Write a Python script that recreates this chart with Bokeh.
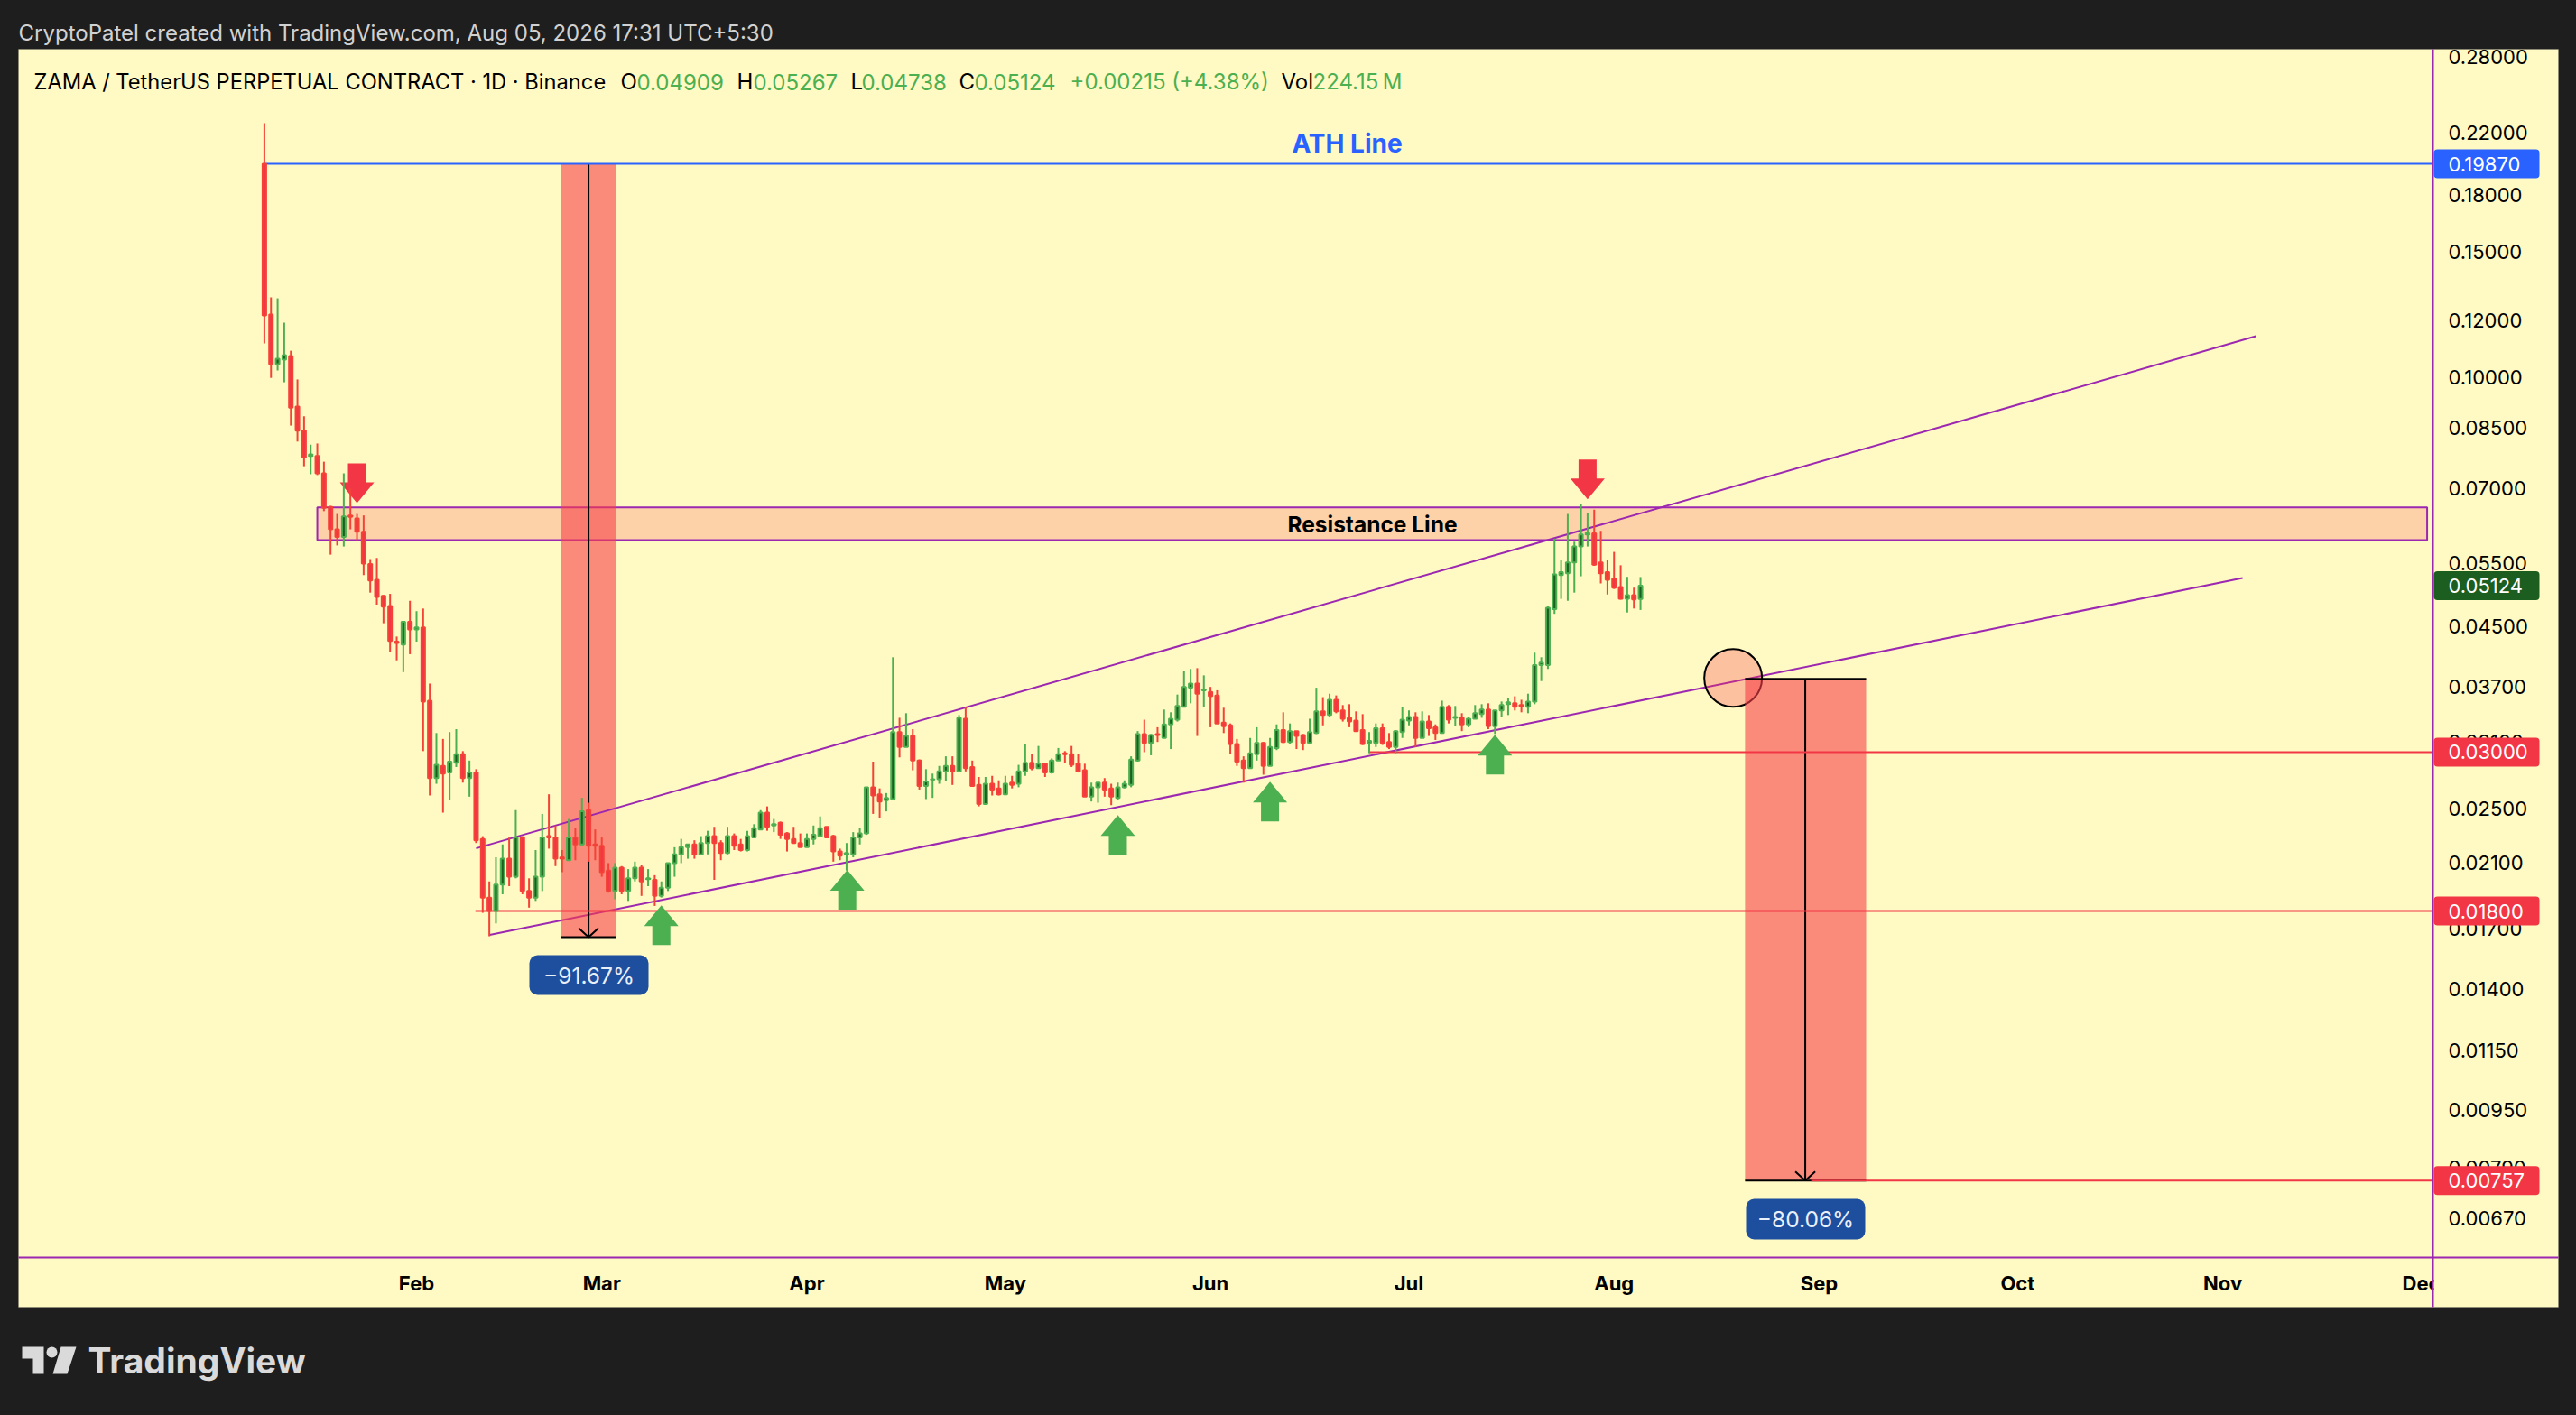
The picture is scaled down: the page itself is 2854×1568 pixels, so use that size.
import math
from bokeh.plotting import figure
from bokeh.embed import file_html
from bokeh.resources import INLINE
from bokeh.models import (BoxAnnotation, ColumnDataSource, FixedTicker, Label, PolyAnnotation,
                          PrintfTickFormatter, Range1d)

# ---- candles: one per day, first one is 23 days before Feb 1 (Jan 9) ----
FIRST_DAY = -23
open_ = [
.1987,.1225,.1044,.1059,.1072,.0911,.0843,.0777,.0777,.0735,
.0660,.0614,.0599,.0642,.0636,.0609,.0549,.0522,.0496,.0480,
.0428,.0424,.0456,.0445,.0448,.0354,.0276,.0287,.0281,.0290,
.0298,.0276,.0281,.0227,.0188,.0180,.0196,.0213,.0201,.0228,
.0192,.0188,.0201,.0229,.0228,.0214,.0212,.0228,.0223,.0249,
.0223,.0222,.0205,.0192,.0207,.0192,.0200,.0207,.01995,.0199,
.0189,.0194,.0210,.0216,.0221,.0223,.0216,.0224,.0229,.0224,
.0217,.0229,.0223,.0219,.0228,.0234,.0247,.0237,.0239,.0231,
.0227,.0224,.0221,.0227,.0229,.0236,.0229,.0218,.0216,.0216,
.0228,.0231,.0268,.0262,.0257,.0258,.0320,.0305,.0316,.0292,
.0269,.02745,.0275,.0282,.0287,.0282,.0334,.0286,.0270,.0254,
.0271,.0267,.0262,.0272,.0271,.0282,.0290,.0285,.0289,.0281,
.0292,.0299,.0298,.0289,.0283,.0260,.0268,.0272,.0267,.0259,
.0268,.0270,.0292,.0318,.0309,.0318,.0314,.0328,.0333,.0347,
.0369,.0374,.0366,.0364,.0360,.0330,.0327,.0308,.0292,.0285,
.0298,.0309,.0287,.0304,.0322,.0310,.0321,.0317,.0309,.0319,
.0342,.0338,.0355,.0343,.0335,.0332,.0322,.0309,.0309,.0324,
.0310,.0305,.0320,.0332,.0336,.0314,.0331,.0325,.0319,.0347,
.0335,.0335,.0328,.0334,.0339,.0344,.0326,.0343,.0350,.0351,
.0349,.0347,.0353,.0397,.0397,.0475,.0530,.0533,.0552,.0581,
.0604,.0606,.0552,.0535,.0524,.0510,.0491,.0497,.04909]
high = [
.2265,.1294,.1290,.1193,.1090,.0994,.0883,.0806,.0809,.0763,
.0662,.0645,.0735,.0700,.0645,.0642,.0558,.0560,.0497,.0499,
.0435,.0457,.0488,.0472,.0476,.0374,.0319,.0313,.0320,.0323,
.0301,.0292,.0284,.0229,.0198,.0214,.0223,.0228,.0249,.0229,
.0200,.0219,.0246,.0262,.0237,.0219,.0242,.0235,.0259,.0255,
.0234,.0228,.0210,.0210,.0208,.0206,.0211,.0209,.0206,.0202,
.0198,.0210,.0221,.0227,.0223,.0226,.0229,.0233,.0236,.0226,
.0236,.0231,.0227,.0233,.0238,.0249,.0252,.0242,.0240,.0232,
.0236,.0231,.0231,.0237,.0244,.0236,.0230,.0220,.0224,.0232,
.0235,.0268,.0291,.0267,.0263,.0407,.0335,.0340,.0323,.0293,
.0284,.0280,.0287,.0296,.0296,.0338,.0347,.0292,.0277,.0277,
.0278,.0274,.0278,.0278,.0288,.0308,.0298,.0306,.0290,.0294,
.0304,.0301,.0306,.0298,.0289,.0272,.0272,.0276,.0271,.0272,
.0274,.0296,.0321,.0333,.0318,.0325,.0344,.0341,.0361,.0389,
.0392,.0393,.0384,.0370,.0366,.0346,.0329,.0313,.0296,.0314,
.0325,.0310,.0314,.0328,.0341,.0329,.0321,.0318,.0334,.0369,
.0358,.0362,.0360,.0349,.0350,.0342,.0339,.0320,.0329,.0329,
.0319,.0322,.0347,.0343,.0341,.0342,.0338,.0328,.0354,.0349,
.0348,.0340,.0336,.0349,.0350,.0351,.0343,.0353,.0357,.0359,
.0355,.0362,.0413,.0407,.0480,.0596,.0557,.0645,.0590,.0666,
.0647,.0654,.0611,.0557,.0571,.0547,.0527,.0509,.05267]
low = [
.1116,.0999,.1023,.0985,.0857,.0814,.0752,.0733,.0731,.0651,
.0566,.0583,.0581,.0614,.0593,.0530,.0501,.0482,.0454,.0414,
.0403,.0388,.0411,.0428,.0301,.0261,.0271,.0247,.0257,.0286,
.0272,.0260,.0224,.0179,.0166,.0173,.0190,.0195,.0200,.0190,
.0182,.0186,.0192,.0220,.0208,.0204,.0212,.0212,.0222,.0211,
.0212,.0201,.0191,.0187,.0190,.0186,.0198,.0189,.0195,.0183,
.0188,.0192,.0201,.0210,.0213,.0213,.0216,.0216,.0199,.0212,
.0216,.0219,.0218,.0218,.0228,.0234,.0233,.0232,.0227,.0218,
.0224,.0221,.0221,.0223,.0229,.0228,.0211,.0212,.0205,.0214,
.0223,.0230,.0246,.0243,.0248,.0257,.0295,.0305,.0283,.0266,
.0258,.0259,.0271,.0273,.0270,.0282,.0282,.0269,.0252,.0254,
.0261,.0261,.0262,.0267,.0268,.0278,.0283,.0285,.0277,.0280,
.0292,.0290,.0286,.0281,.0260,.0256,.0255,.0260,.0253,.0257,
.0267,.0268,.0291,.0300,.0297,.0310,.0314,.0303,.0331,.0347,
.0351,.0316,.0347,.0325,.0329,.0319,.0298,.0287,.0272,.0285,
.0292,.0279,.0287,.0302,.0309,.0308,.0303,.0302,.0309,.0318,
.0327,.0336,.0340,.0331,.0325,.0321,.0307,.0299,.0305,.0307,
.0303,.0299,.0314,.0327,.0305,.0314,.0316,.0312,.0319,.0329,
.0326,.0321,.0325,.0334,.0335,.0323,.0318,.0336,.0338,.0343,
.0341,.0340,.0350,.0377,.0392,.0468,.0491,.0488,.0501,.0528,
.0581,.0546,.0516,.0498,.0507,.0490,.0470,.0476,.04738]
close = [
.1221,.1044,.1062,.1075,.0908,.0843,.0774,.0781,.0735,.0658,
.0614,.0599,.0640,.0639,.0609,.0550,.0521,.0494,.0479,.0429,
.0426,.0456,.0445,.0448,.0353,.0276,.0288,.0280,.0291,.0298,
.0276,.0281,.0226,.0188,.0180,.0196,.0213,.0201,.0228,.0192,
.0188,.0201,.0228,.0228,.0213,.0213,.0228,.0223,.0248,.0222,
.0222,.0204,.0192,.0207,.0192,.0200,.0207,.0198,.0200,.0189,
.0194,.0210,.0216,.0221,.0223,.0216,.0224,.0229,.0224,.0217,
.0229,.0222,.0219,.0229,.0235,.0247,.0236,.0238,.0230,.0227,
.0224,.0221,.0227,.0230,.0235,.0228,.0218,.0215,.0217,.0228,
.0231,.0268,.0261,.0256,.0259,.0320,.0305,.0316,.0292,.0269,
.0273,.0275,.0282,.0287,.0282,.0335,.0285,.0269,.0254,.0271,
.0266,.0262,.0271,.0270,.0282,.0290,.0285,.0289,.0281,.0292,
.0298,.0298,.0288,.0282,.0260,.0268,.0272,.0266,.0260,.0268,
.0271,.0293,.0318,.0309,.0317,.0317,.0328,.0334,.0348,.0370,
.0374,.0362,.0367,.0359,.0329,.0326,.0308,.0291,.0285,.0299,
.0309,.0287,.0305,.0322,.0310,.0321,.0316,.0309,.0320,.0342,
.0338,.0355,.0342,.0334,.0331,.0321,.0308,.0311,.0324,.0309,
.0305,.0321,.0333,.0336,.0314,.0331,.0324,.0319,.0347,.0333,
.0336,.0328,.0334,.0340,.0344,.0326,.0343,.0349,.0352,.0347,
.0348,.0353,.0397,.0400,.0477,.0531,.0535,.0552,.0581,.0604,
.0607,.0548,.0533,.0522,.0509,.0491,.0497,.0490,.05124]

# ---- axes ----
price_ticks = [.28,.22,.18,.15,.12,.10,.085,.07,.055,.045,.037,.031,.025,.021,.017,.014,.0115,.0095,.0079,.0067]
month_days = [0,28,59,89,120,150,181,212,242,273,303]
month_names = ["Feb","Mar","Apr","May","Jun","Jul","Aug","Sep","Oct","Nov","Dec"]

# ---- drawings, in (day since Feb 1, price) ----
ath_price = .1987
upper_channel_days, upper_channel_prices = [9.0, 278.0], [.02202, .1142]
lower_channel_days, lower_channel_prices = [11.05, 276.0], [.01667, .05252]
band_days, band_prices = [-15.0, 303.9], [.0593, .0659]
drop1_days, drop1_prices = [21.8, 30.1], [.1987, .01655]
drop1_mid = 26.0
drop2_days, drop2_prices = [200.8, 219.1], [.03797, .00757]
drop2_mid = 209.9
level_lines = [(8.9, .018), (144.0, .030), (210.8, .00757)]
circle_day, circle_price = 199.0, .03807
red_arrow_days, red_arrow_prices = [-9.0, 177.0], [.0668, .0676]
green_arrow_days, green_arrow_prices = [37.0, 65.1, 106.0, 129.0, 163.0], [.01834, .02054, .02451, .02728, .03172]
price_tags = [(.1987, "0.19870", "#2962FF"), (.05124, "0.05124", "#1B5E20"),
              (.03, "0.03000", "#F23645"), (.018, "0.01800", "#F23645"), (.00757, "0.00757", "#F23645")]

# ---- colours ----
BG, PANEL, PURPLE = "#1E1E1E", "#FFF9C4", "#9C27B0"
UP, UP_IN, DOWN, DOWN_IN = "#4CAF50", "#1B5E20", "#F44336", "#F23645"
LINE_RED, BLUE, TAG_BLUE = "#F23645", "#2962FF", "#1E4F9E"
FONT = "Inter"

W, H = 2838, 1552
PX_DAY, PX0 = 7.33, 461.0
PX_LN, PY0, P0 = 344.8, 146.0, .22
def X(px): return (px - PX0) / PX_DAY
def Y(py): return P0 * math.exp(-(py - PY0) / PX_LN)
def shifted(day, price, dx, dy):
    return day + dx / PX_DAY, price * math.exp(-dy / PX_LN)

# three stacked figures of the same size: page chrome behind, chart, labels in front
def sheet():
    s = figure(width=W, height=H, output_backend="svg", toolbar_location=None,
               x_axis_location=None, y_axis_location=None, x_range=Range1d(0, 1), y_range=Range1d(0, 1),
               min_border_left=0, min_border_right=0, min_border_top=0, min_border_bottom=0)
    s.grid.visible = False
    s.outline_line_color = None
    return s

back = sheet()
back.background_fill_color = BG
back.border_fill_color = BG
front = sheet()
front.background_fill_alpha = 0
front.border_fill_alpha = 0

p = figure(width=W, height=H, output_backend="svg", toolbar_location=None,
           y_axis_type="log", y_axis_location="right",
           x_range=Range1d(X(20), X(2695)), y_range=Range1d(Y(1393), Y(54)),
           min_border_left=12, min_border_right=151, min_border_top=46, min_border_bottom=167)
p.background_fill_alpha = 0
p.border_fill_alpha = 0
p.outline_line_color = None
p.grid.visible = False

# page pixel -> canvas pixel (each figure sits 8px into the page)
def box(x0, x1, y0, y1, color, radius=0, line=None, fig=front):
    fig.add_layout(BoxAnnotation(left=x0 - 8, right=x1 - 8, top=y0 - 8, bottom=y1 - 8,
                                 left_units="canvas", right_units="canvas", top_units="canvas", bottom_units="canvas",
                                 fill_color=color, fill_alpha=1, line_color=line, border_radius=radius,
                                 editable=False))
def text(px, py, s, color="#000000", size=24, style="normal", align="left", fig=front):
    fig.add_layout(Label(x=px - 8, y=py - 8, x_units="canvas", y_units="canvas", text=s, text_color=color,
                         text_font=FONT, text_font_size=f"{size}px", text_font_style=style, text_align=align,
                         text_baseline="middle"))

box(20, 2834, 54, 1448, PANEL, line="#8C8C78", fig=back)

# axes
ya = p.yaxis[0]
ya.ticker = FixedTicker(ticks=price_ticks)
ya.formatter = PrintfTickFormatter(format="%.5f")
ya.axis_line_color = None
ya.major_tick_line_color = None
ya.minor_tick_line_color = None
ya.major_tick_out = 0
ya.major_tick_in = 0
ya.major_label_standoff = 17
ya.major_label_text_font = FONT
ya.major_label_text_font_size = "22px"
ya.major_label_text_color = "#000000"
xa = p.xaxis[0]
xa.ticker = FixedTicker(ticks=month_days)
xa.major_label_overrides = {d: n for d, n in zip(month_days, month_names)}
xa.axis_line_color = None
xa.major_tick_line_color = None
xa.minor_tick_line_color = None
xa.major_tick_out = 0
xa.major_tick_in = 0
xa.major_label_standoff = 15
xa.major_label_text_font = FONT
xa.major_label_text_font_size = "22px"
xa.major_label_text_font_style = "bold"
xa.major_label_text_color = "#000000"

# drawings under the candles
p.quad(left=band_days[0], right=band_days[1], bottom=band_prices[0], top=band_prices[1],
       fill_color="#FDD2A9", line_color=PURPLE, line_width=2)
p.line(lower_channel_days, lower_channel_prices, line_color=PURPLE, line_width=2)
p.scatter([circle_day], [circle_price], marker="circle", size=64, fill_color="#F6404A", fill_alpha=.3,
          line_color="#000000", line_width=2)
for days, prices, mid in ((drop1_days, drop1_prices, drop1_mid), (drop2_days, drop2_prices, drop2_mid)):
    p.quad(left=days[0], right=days[1], top=prices[0], bottom=prices[1], fill_color="#F6404A",
           fill_alpha=.6, line_color=None)
    p.line([days[0], days[1]], [prices[1], prices[1]], line_color="#000000", line_width=2)
    p.line([mid, mid], prices, line_color="#000000", line_width=2)
    a = shifted(mid, prices[1], -11, -10)
    b = shifted(mid, prices[1], 11, -10)
    p.line([a[0], mid, b[0]], [a[1], prices[1], b[1]], line_color="#000000", line_width=2)
p.line([drop2_days[0], drop2_days[1]], [drop2_prices[0]] * 2, line_color="#000000", line_width=2)
p.line(upper_channel_days, upper_channel_prices, line_color=PURPLE, line_width=2)
for d0, price in level_lines:
    p.line([d0, X(2695)], [price, price], line_color=LINE_RED, line_width=2)
p.line([FIRST_DAY + .2, X(2695)], [ath_price, ath_price], line_color=BLUE, line_width=2)

def arrow(day, tip, direction):
    # direction: +1 points up (tip on top), -1 points down (tip below)
    shape = [(0, 0), (19, 23), (10, 23), (10, 44), (-10, 44), (-10, 23), (-19, 23)]
    pts = [shifted(day, tip, dx, dy * direction) for dx, dy in shape]
    return [q[0] for q in pts], [q[1] for q in pts]
xs, ys = zip(*[arrow(d, t, -1) for d, t in zip(red_arrow_days, red_arrow_prices)])
p.patches(list(xs), list(ys), fill_color=LINE_RED, line_color=None)
xs, ys = zip(*[arrow(d, t, 1) for d, t in zip(green_arrow_days, green_arrow_prices)])
p.patches(list(xs), list(ys), fill_color=UP, line_color=None)

# candles
days = [FIRST_DAY + i for i in range(len(open_))]
up = [c >= o for o, c in zip(open_, close)]
src = ColumnDataSource(dict(
    x=days, h=high, l=low,
    top=[max(o, c) for o, c in zip(open_, close)],
    bot=[min(o, c) for o, c in zip(open_, close)],
    edge=[UP if u else DOWN for u in up],
    fill=[UP_IN if u else DOWN_IN for u in up]))
p.segment("x", "h", "x", "l", source=src, line_color="edge", line_width=2)
p.vbar("x", width=.55, top="top", bottom="bot", source=src, fill_color="fill", line_color="edge", line_width=2)

# purple frame lines of the panes ("Dec" is cut off by the price pane)
box(2696, 2716, 1400, 1444, PANEL)
box(2694, 2696, 54, 1448, PURPLE)
box(20, 2834, 1392, 1394, PURPLE)

# price tags
for price, s, color in price_tags:
    py = PY0 + PX_LN * math.log(P0 / price)
    box(2696, 2813, py - 16, py + 16, color, radius=4)
    text(2712, py, s, color="#FFFFFF", size=22)

# measure labels
box(586, 718, 1058, 1102, TAG_BLUE, radius=9)
text(652, 1080, "\u221291.67%", color="#EAF0FA", size=24.5, align="center")
box(1934, 2066, 1328, 1373, TAG_BLUE, radius=9)
text(2000, 1350, "\u221280.06%", color="#EAF0FA", size=24.5, align="center")

# drawing labels
text(1492, 158, "ATH Line", color=BLUE, size=28, style="bold", align="center")
text(1520, 580, "Resistance Line", size=24.5, style="bold", align="center")

# header and legend
text(20, 36, "CryptoPatel created with TradingView.com, Aug 05, 2026 17:31 UTC+5:30", color="#D1D1D1", size=24)
text(37, 90, "ZAMA / TetherUS PERPETUAL CONTRACT \u00b7 1D \u00b7 Binance", size=23.7)
for px, lab, vx, val in ((687, "O", 705, "0.04909"), (816, "H", 834, "0.05267"),
                         (942, "L", 954, "0.04738"), (1062, "C", 1079, "0.05124")):
    text(px, 90, lab)
    text(vx, 90, val, color=UP)
text(1185, 90, "+0.00215 (+4.38%)", color=UP)
text(1419, 90, "Vol")
text(1454, 90, "224.15\u2009M", color=UP)

# TradingView mark
LOGO = "#DADADA"
def poly(points):
    front.add_layout(PolyAnnotation(xs=[a - 8 for a, _ in points], ys=[b - 8 for _, b in points],
                                    xs_units="canvas", ys_units="canvas",
                                    fill_color=LOGO, fill_alpha=1, line_color=None, editable=False))
poly([(24, 1492), (48, 1492), (48, 1522), (36, 1522), (36, 1505), (24, 1505)])
poly([(67, 1492), (84, 1492), (74, 1522), (58, 1522)])
box(51, 63, 1492, 1504, LOGO, radius=6)
text(97, 1507, "TradingView", color=LOGO, size=39, style="bold")

html = file_html([back, p, front], INLINE)
html = html.replace("</head>",
    "<style>html,body{background:#1E1E1E;overflow:hidden;}"
    "body>div>div{position:absolute!important;left:8px;top:8px;}</style></head>", 1)
open("out.html", "w").write(html)
